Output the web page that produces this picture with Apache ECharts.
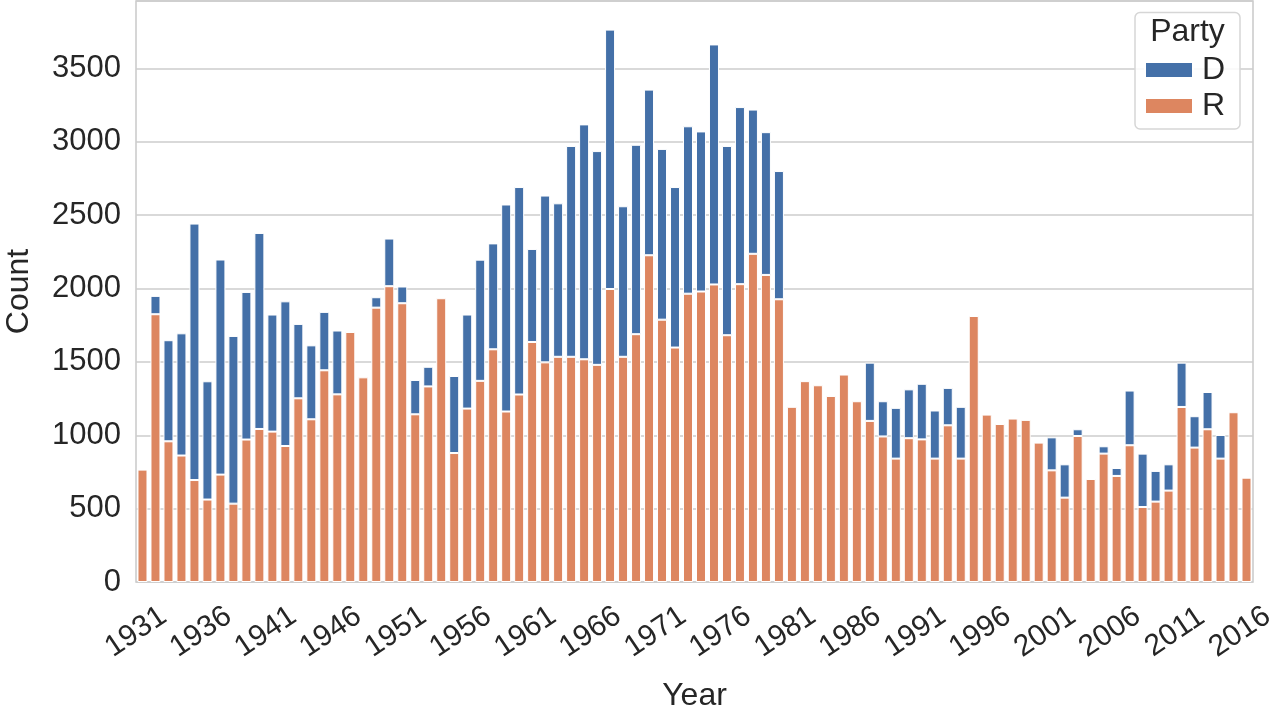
<!DOCTYPE html>
<html>
<head>
<meta charset="utf-8">
<title>Count by Year and Party</title>
<script src="https://cdn.jsdelivr.net/npm/echarts@6/dist/echarts.min.js"></script>
<style>
  html, body { margin: 0; padding: 0; background: #fff; }
  #main { width: 1275px; height: 711px; }
</style>
</head>
<body>
<div id="main"></div>
<script>
// years (one bin per year, bins start on the year)
var years = [1931,1932,1933,1934,1935,1936,1937,1938,1939,1940,
             1941,1942,1943,1944,1945,1946,1947,1948,1949,1950,
             1951,1952,1953,1954,1955,1956,1957,1958,1959,1960,
             1961,1962,1963,1964,1965,1966,1967,1968,1969,1970,
             1971,1972,1973,1974,1975,1976,1977,1978,1979,1980,
             1981,1982,1983,1984,1985,1986,1987,1988,1989,1990,
             1991,1992,1993,1994,1995,1996,1997,1998,1999,2000,
             2001,2002,2003,2004,2005,2006,2007,2008,2009,2010,
             2011,2012,2013,2014,2015,2016];

// R counts (bottom of the stack)
var countR = [766,1825,959,862,695,562,732,534,971,1043,
              1025,927,1252,1109,1443,1279,1704,1395,1870,2016,
              1900,1143,1333,1934,879,1182,1371,1586,1162,1278,
              1636,1497,1535,1535,1518,1480,1997,1535,1689,2227,
              1788,1598,1965,1980,2028,1682,2030,2237,2093,1927,
              1194,1369,1341,1268,1414,1232,1098,992,841,980,
              972,841,1068,841,1813,1141,1077,1114,1105,950,
              761,575,995,702,875,723,932,511,548,623,
              1193,916,1041,841,1157,711];

// D counts (stacked on top of R)
var countD = [0,125,689,833,1748,806,1466,1143,1006,1336,
              798,986,507,504,398,435,0,0,71,325,
              114,234,134,0,525,641,826,722,1411,1414,
              634,1137,1046,1437,1601,1457,1768,1026,1291,1129,
              1164,1094,1141,1091,1636,1290,1207,983,973,874,
              0,0,0,0,0,0,397,240,346,333,
              379,328,255,353,0,0,0,0,0,0,
              225,227,46,0,50,54,373,364,209,179,
              302,214,254,161,0,0];

var partyNames = ['D', 'R'];
var partyColors = { D: '#4470a8', R: '#dd8660' };

var startYear = years[0];
var lastYear = years[years.length - 1];

function nonZero(values) {
  return values.map(function (v) { return v > 0 ? v : '-'; });
}

var textColor = '#262626';
var fontFamily = "'Liberation Sans', Arial, sans-serif";

var chart = echarts.init(document.getElementById('main'), null, { renderer: 'canvas' });

var option = {
  animation: false,
  backgroundColor: '#ffffff',
  textStyle: { fontFamily: fontFamily, color: textColor },
  grid: {
    left: 136,
    right: 22,
    top: 1,
    bottom: 129,
    outerBoundsMode: 'none',
    containLabel: false,
    show: true,
    borderColor: '#cccccc',
    borderWidth: 1.6,
    backgroundColor: 'transparent'
  },
  xAxis: [
    {
      // tick labels sit on the bin edges
      type: 'value',
      position: 'bottom',
      min: 0,
      max: lastYear - startYear + 1,
      interval: 5,
      name: 'Year',
      nameLocation: 'middle',
      nameGap: 98,
      nameTextStyle: { fontSize: 32, color: textColor, fontFamily: fontFamily },
      axisLine: { show: false },
      axisTick: { show: false },
      splitLine: { show: false },
      axisLabel: {
        rotate: 34,
        align: 'center',
        verticalAlign: 'middle',
        margin: 50,
        fontSize: 30,
        color: textColor,
        fontFamily: fontFamily,
        showMaxLabel: false,
        formatter: function (v) { return String(v + startYear); }
      }
    },
    {
      // one band per year for the bars
      type: 'category',
      position: 'top',
      data: years,
      boundaryGap: true,
      show: false
    }
  ],
  yAxis: {
    type: 'value',
    min: 0,
    max: 3960,
    interval: 500,
    name: 'Count',
    nameLocation: 'middle',
    nameGap: 101,
    nameTextStyle: { fontSize: 32, color: textColor, fontFamily: fontFamily },
    axisLine: { show: false },
    axisTick: { show: false },
    splitLine: { show: true, lineStyle: { color: '#cccccc', width: 1.6 } },
    axisLabel: {
      margin: 15,
      fontSize: 31,
      color: textColor,
      fontFamily: fontFamily,
      showMaxLabel: false,
      formatter: function (v) { return String(v); }
    }
  },
  legend: {
    data: partyNames,
    orient: 'vertical',
    left: 1144,
    top: 54,
    padding: 0,
    itemWidth: 48,
    itemHeight: 16,
    itemGap: 4,
    icon: 'rect',
    z: 20,
    textStyle: { fontSize: 32, color: textColor, fontFamily: fontFamily, padding: [0, 0, 0, 4] }
  },
  graphic: [
    {
      type: 'rect',
      z: 10,
      shape: { x: 1135, y: 12.5, width: 105, height: 116.5, r: 5 },
      style: { fill: 'rgba(255,255,255,0.85)', stroke: '#d6d6d6', lineWidth: 1.5 }
    },
    {
      type: 'text',
      z: 11,
      style: {
        x: 1187.5, y: 32,
        text: 'Party',
        fill: textColor,
        font: "32px 'Liberation Sans', Arial, sans-serif",
        textAlign: 'center',
        textVerticalAlign: 'middle'
      }
    }
  ],
  series: [
    {
      name: 'R',
      type: 'bar',
      stack: 'party',
      xAxisIndex: 1,
      barWidth: '77%',
      data: nonZero(countR),
      itemStyle: { color: partyColors.R, borderColor: '#ffffff', borderWidth: 1 }
    },
    {
      name: 'D',
      type: 'bar',
      stack: 'party',
      xAxisIndex: 1,
      barWidth: '77%',
      data: nonZero(countD),
      itemStyle: { color: partyColors.D, borderColor: '#ffffff', borderWidth: 1 }
    }
  ]
};

chart.setOption(option);
</script>
</body>
</html>
